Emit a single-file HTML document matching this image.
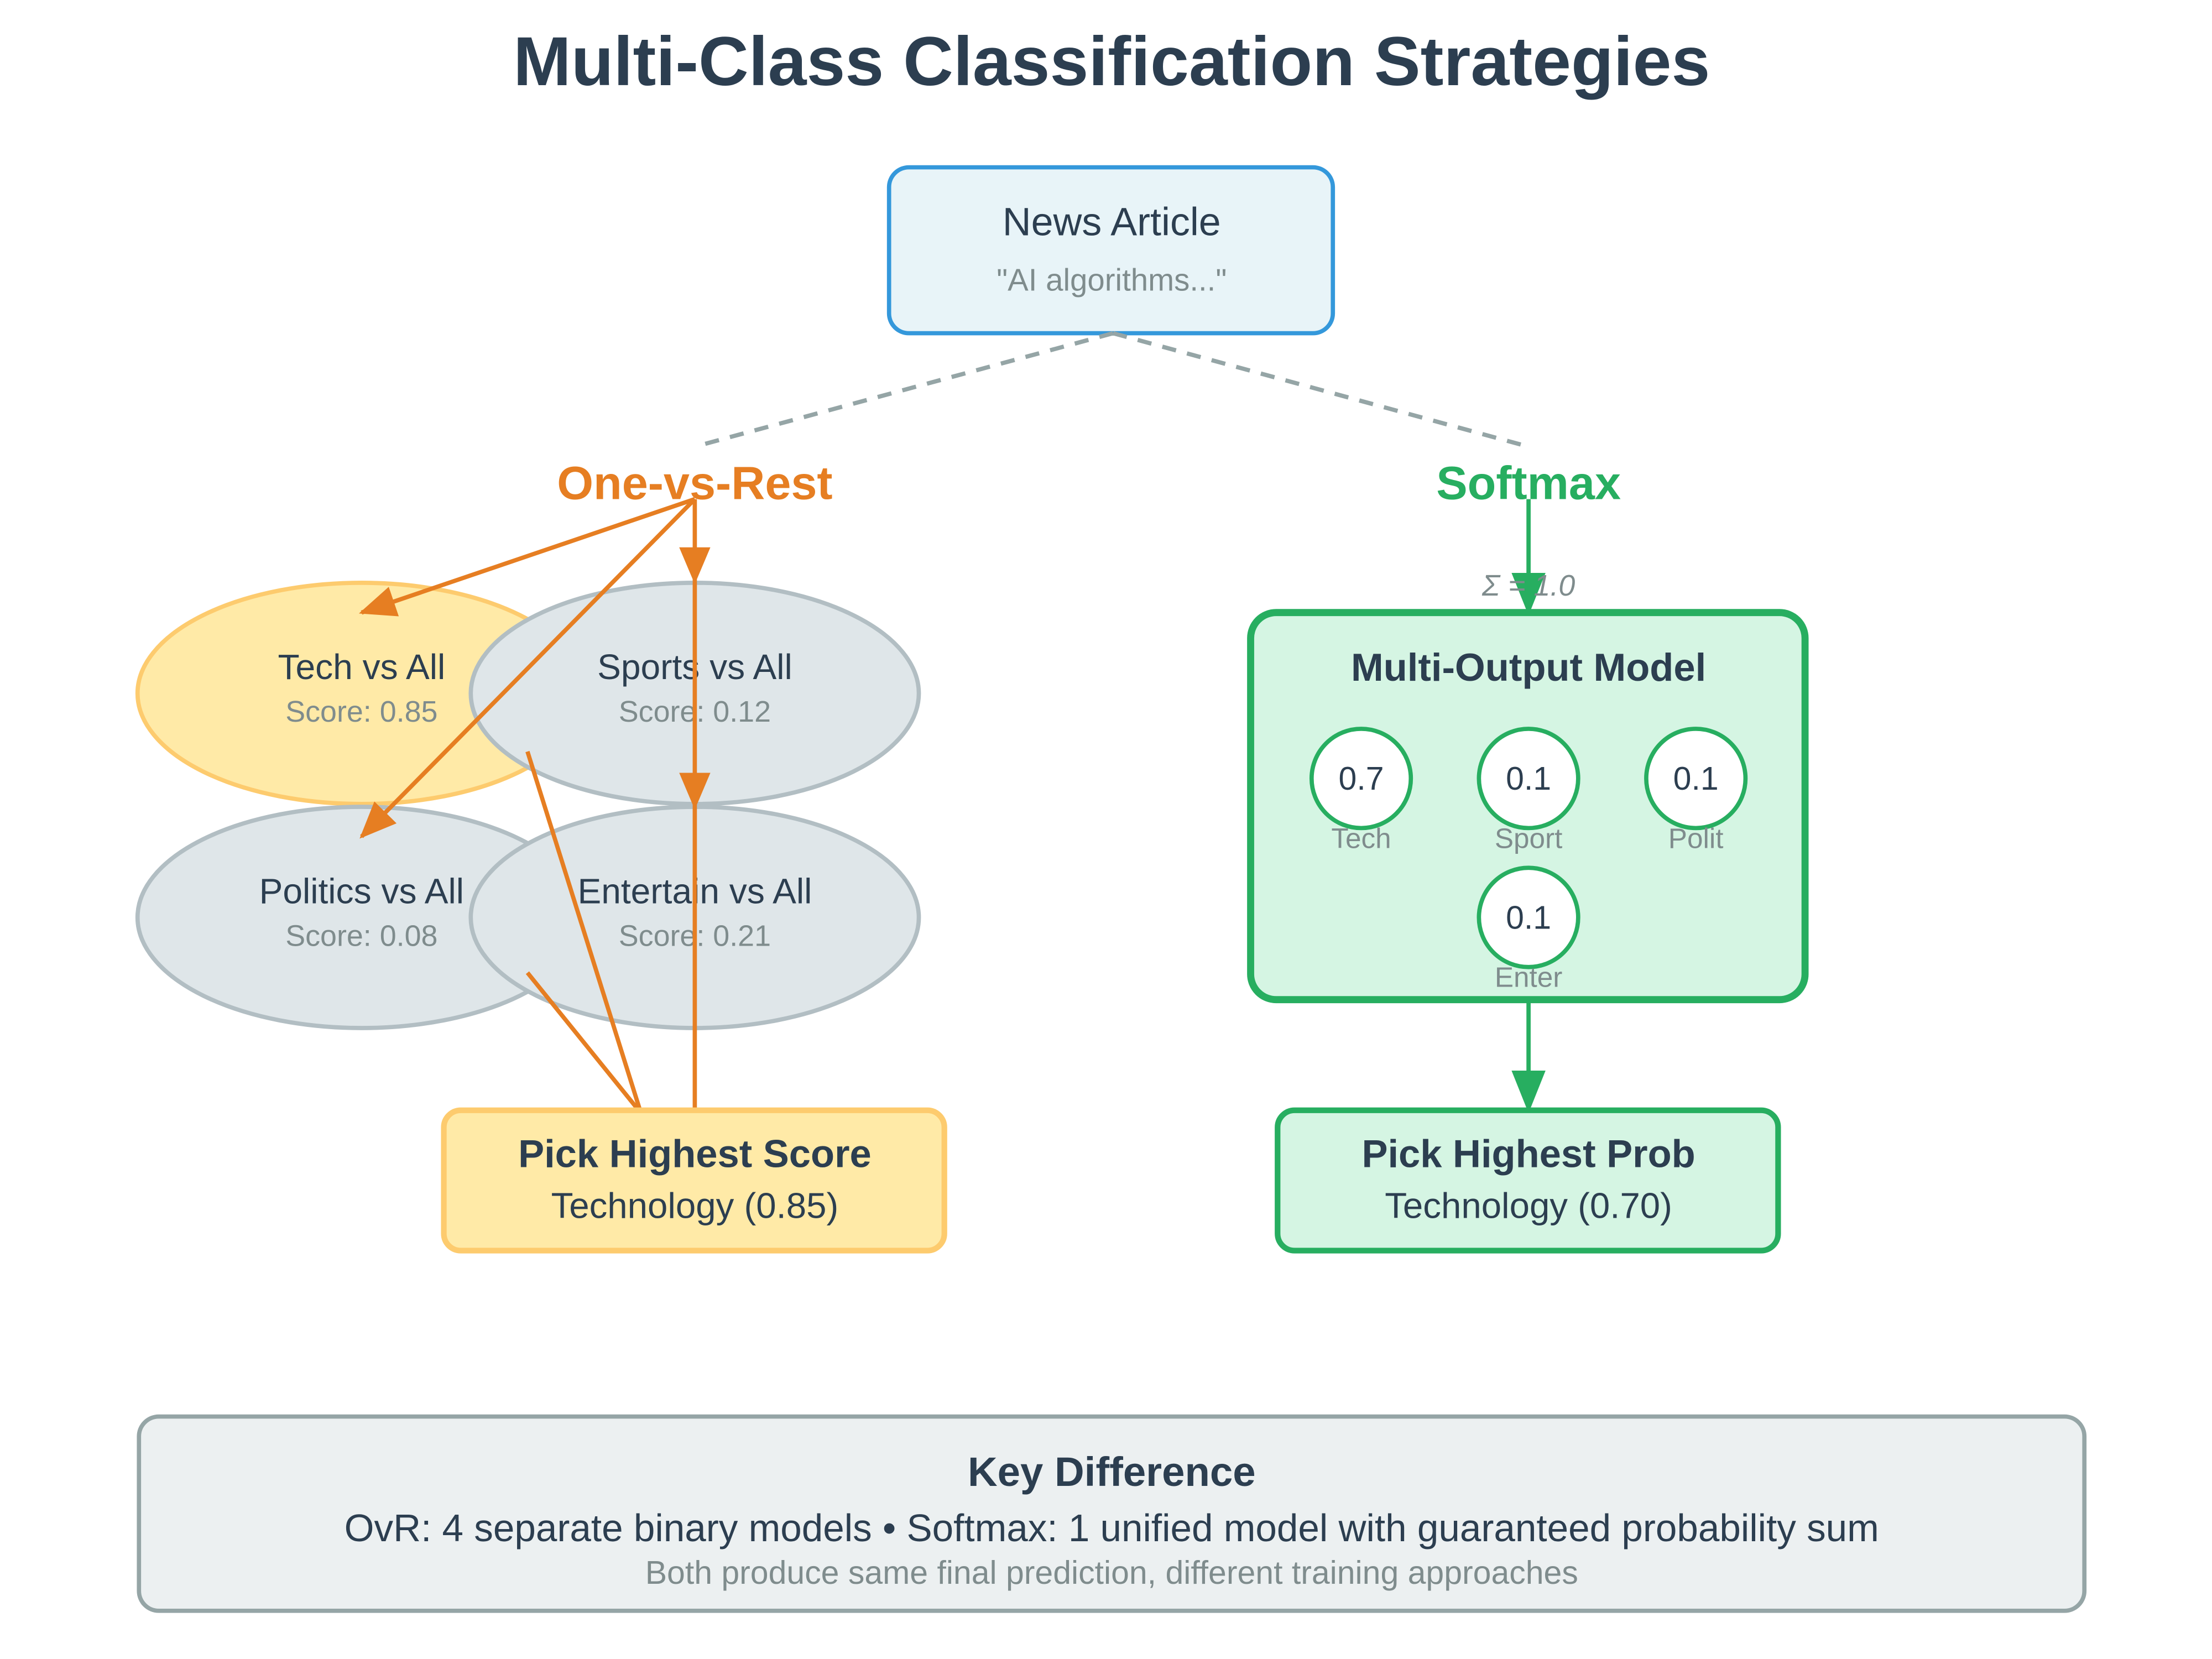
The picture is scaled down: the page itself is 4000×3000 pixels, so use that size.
<!DOCTYPE html>
<html><head><meta charset="utf-8"><style>
html,body{margin:0;padding:0;background:#fff;}
svg{display:block;}
text{font-family:"Liberation Sans","DejaVu Sans",sans-serif;}
</style></head><body>
<svg width="4000" height="3000" viewBox="0 0 1560 1170" xmlns="http://www.w3.org/2000/svg">
<defs>
<marker id="ao" markerUnits="userSpaceOnUse" markerWidth="26" markerHeight="22" refX="24" refY="11" orient="auto"><path d="M0,0 L26,11 L0,22 Z" fill="#e67e22"/></marker>
<marker id="ag" markerUnits="userSpaceOnUse" markerWidth="30" markerHeight="24" refX="28" refY="12" orient="auto"><path d="M0,0 L30,12 L0,24 Z" fill="#27ae60"/></marker>
</defs>
<rect width="1560" height="1170" fill="#fff"/>
<text x="784" y="60" text-anchor="middle" font-size="49" font-weight="bold" fill="#2c3e50">Multi-Class Classification Strategies</text>

<rect x="627" y="118" width="313" height="117" rx="14" fill="#e8f4f8" stroke="#3498db" stroke-width="3"/>
<text x="784" y="166" text-anchor="middle" font-size="28" fill="#2c3e50">News Article</text>
<text x="784" y="205" text-anchor="middle" font-size="22" fill="#7f8c8d">"AI algorithms..."</text>

<path d="M785,235 L490,315 M785,235 L1078,315" stroke="#95a5a6" stroke-width="3" stroke-dasharray="10,8" fill="none"/>

<text x="490" y="352" text-anchor="middle" font-size="33" font-weight="bold" fill="#e67e22">One-vs-Rest</text>
<text x="1078" y="352" text-anchor="middle" font-size="33" font-weight="bold" fill="#27ae60">Softmax</text>

<ellipse cx="255" cy="489" rx="158" ry="78" fill="#ffeaa7" stroke="#fdcb6e" stroke-width="3"/>
<ellipse cx="490" cy="489" rx="158" ry="78" fill="#dfe6e9" stroke="#b2bec3" stroke-width="3"/>
<ellipse cx="255" cy="647" rx="158" ry="78" fill="#dfe6e9" stroke="#b2bec3" stroke-width="3"/>
<ellipse cx="490" cy="647" rx="158" ry="78" fill="#dfe6e9" stroke="#b2bec3" stroke-width="3"/>
<g text-anchor="middle">
<text x="255" y="479" font-size="25" fill="#2c3e50">Tech vs All</text>
<text x="255" y="509" font-size="21" fill="#7f8c8d">Score: 0.85</text>
<text x="490" y="479" font-size="25" fill="#2c3e50">Sports vs All</text>
<text x="490" y="509" font-size="21" fill="#7f8c8d">Score: 0.12</text>
<text x="255" y="637" font-size="25" fill="#2c3e50">Politics vs All</text>
<text x="255" y="667" font-size="21" fill="#7f8c8d">Score: 0.08</text>
<text x="490" y="637" font-size="25" fill="#2c3e50">Entertain vs All</text>
<text x="490" y="667" font-size="21" fill="#7f8c8d">Score: 0.21</text>
</g>

<g stroke="#e67e22" stroke-width="3" fill="none">
<line x1="490" y1="352" x2="255" y2="432" marker-end="url(#ao)"/>
<line x1="490" y1="352" x2="490" y2="410" marker-end="url(#ao)"/>
<line x1="490" y1="352" x2="255" y2="590" marker-end="url(#ao)"/>
<line x1="490" y1="410" x2="490" y2="569" marker-end="url(#ao)"/>
<line x1="490" y1="569" x2="490" y2="785"/>
<line x1="372" y1="530" x2="452" y2="785"/>
<line x1="372" y1="686" x2="452" y2="785"/>
</g>

<rect x="313" y="783" width="353" height="99" rx="12" fill="#ffeaa7" stroke="#fdcb6e" stroke-width="4"/>
<text x="490" y="823" text-anchor="middle" font-size="27.5" font-weight="bold" fill="#2c3e50">Pick Highest Score</text>
<text x="490" y="859" text-anchor="middle" font-size="25.5" fill="#2c3e50">Technology (0.85)</text>

<line x1="1078" y1="352" x2="1078" y2="432" stroke="#27ae60" stroke-width="3" marker-end="url(#ag)"/>
<text x="1078" y="420" text-anchor="middle" font-size="21" font-style="italic" fill="#7f8c8d">Σ = 1.0</text>

<rect x="882" y="432" width="391" height="273" rx="18" fill="#d5f5e3" stroke="#27ae60" stroke-width="5"/>
<text x="1078" y="480" text-anchor="middle" font-size="27.5" font-weight="bold" fill="#2c3e50">Multi-Output Model</text>
<g stroke="#27ae60" stroke-width="3" fill="#fff">
<circle cx="960" cy="549" r="35"/><circle cx="1078" cy="549" r="35"/><circle cx="1196" cy="549" r="35"/><circle cx="1078" cy="647" r="35"/>
</g>
<g text-anchor="middle">
<text x="960" y="557" font-size="23" fill="#2c3e50">0.7</text>
<text x="1078" y="557" font-size="23" fill="#2c3e50">0.1</text>
<text x="1196" y="557" font-size="23" fill="#2c3e50">0.1</text>
<text x="1078" y="655" font-size="23" fill="#2c3e50">0.1</text>
<text x="960" y="598" font-size="20" fill="#7f8c8d">Tech</text>
<text x="1078" y="598" font-size="20" fill="#7f8c8d">Sport</text>
<text x="1196" y="598" font-size="20" fill="#7f8c8d">Polit</text>
<text x="1078" y="696" font-size="20" fill="#7f8c8d">Enter</text>
</g>

<line x1="1078" y1="705" x2="1078" y2="783" stroke="#27ae60" stroke-width="3" marker-end="url(#ag)"/>
<rect x="901" y="783" width="353" height="99" rx="12" fill="#d5f5e3" stroke="#27ae60" stroke-width="4"/>
<text x="1078" y="823" text-anchor="middle" font-size="27.5" font-weight="bold" fill="#2c3e50">Pick Highest Prob</text>
<text x="1078" y="859" text-anchor="middle" font-size="25.5" fill="#2c3e50">Technology (0.70)</text>

<rect x="98" y="999" width="1372" height="137" rx="14" fill="#ecf0f1" stroke="#95a5a6" stroke-width="3"/>
<text x="784" y="1048" text-anchor="middle" font-size="29" font-weight="bold" fill="#2c3e50">Key Difference</text>
<text x="784" y="1087" text-anchor="middle" font-size="27" fill="#2c3e50">OvR: 4 separate binary models • Softmax: 1 unified model with guaranteed probability sum</text>
<text x="784" y="1117" text-anchor="middle" font-size="23" fill="#7f8c8d">Both produce same final prediction, different training approaches</text>
</svg>
</body></html>
